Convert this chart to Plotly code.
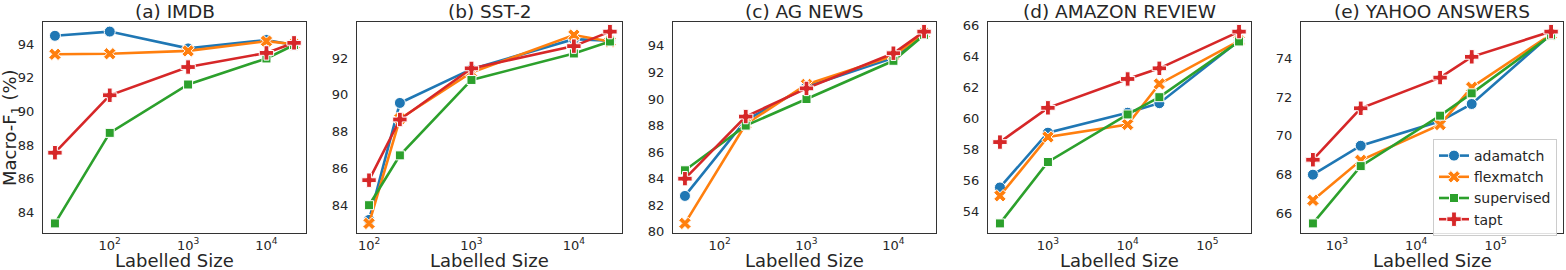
import math
import plotly.graph_objects as go

# ---------------- data ----------------
titles = ["(a) IMDB", "(b) SST-2", "(c) AG NEWS", "(d) AMAZON REVIEW", "(e) YAHOO ANSWERS"]
methods = ["adamatch", "flexmatch", "supervised", "tapt"]

x_imdb = [20, 100, 1000, 10000, 22500]
x_sst2 = [100, 200, 1000, 10000, 22500]
x_agnews = [40, 200, 1000, 10000, 22500]
x_amazon = [250, 1000, 10000, 25000, 250000]
x_yahoo = [500, 2000, 20000, 50000, 500000]

imdb_adamatch = [94.5, 94.75, 93.75, 94.25, 93.95]
imdb_flexmatch = [93.4, 93.43, 93.6, 94.18, 94.0]
imdb_supervised = [83.33, 88.72, 91.6, 93.15, 93.95]
imdb_tapt = [87.54, 90.96, 92.64, 93.48, 94.08]

sst2_adamatch = [83.2, 89.56, 91.4, 93.03, 92.94]
sst2_flexmatch = [83.01, 88.7, 91.22, 93.25, 92.9]
sst2_supervised = [84.0, 86.71, 90.81, 92.25, 92.9]
sst2_tapt = [85.36, 88.66, 91.44, 92.65, 93.44]

agnews_adamatch = [82.7, 88.4, 90.93, 93.1, 94.95]
agnews_flexmatch = [80.63, 88.1, 91.1, 93.25, 94.95]
agnews_supervised = [84.63, 88.0, 90.0, 92.88, 94.83]
agnews_tapt = [84.0, 88.68, 90.8, 93.45, 95.08]

amazon_adamatch = [55.53, 59.08, 60.37, 60.99, 65.03]
amazon_flexmatch = [54.99, 58.8, 59.61, 62.24, 65.03]
amazon_supervised = [53.2, 57.18, 60.26, 61.38, 64.99]
amazon_tapt = [58.47, 60.69, 62.56, 63.25, 65.63]

yahoo_adamatch = [68.0, 69.49, 70.75, 71.64, 75.23]
yahoo_flexmatch = [66.68, 68.74, 70.58, 72.5, 75.23]
yahoo_supervised = [65.49, 68.44, 71.04, 72.19, 75.18]
yahoo_tapt = [68.77, 71.42, 73.0, 74.07, 75.37]

xtick_vals = [100, 1000, 10000, 100000]
xtick_text = ["10<sup>2</sup>", "10<sup>3</sup>", "10<sup>4</sup>", "10<sup>5</sup>"]
ytick_step = 2

panels = [
    (x_imdb, [imdb_adamatch, imdb_flexmatch, imdb_supervised, imdb_tapt]),
    (x_sst2, [sst2_adamatch, sst2_flexmatch, sst2_supervised, sst2_tapt]),
    (x_agnews, [agnews_adamatch, agnews_flexmatch, agnews_supervised, agnews_tapt]),
    (x_amazon, [amazon_adamatch, amazon_flexmatch, amazon_supervised, amazon_tapt]),
    (x_yahoo, [yahoo_adamatch, yahoo_flexmatch, yahoo_supervised, yahoo_tapt]),
]

# ---------------- style ----------------
W, H = 1566, 270
colors = ["#1f77b4", "#ff7f0e", "#2ca02c", "#d62728"]
symbols = ["circle", "x", "square", "cross"]
msizes = [11, 11, 9, 12]
txt = "#262626"
font_family = "DejaVu Sans"

panel_px = [(43, 306), (357, 622), (673, 936), (988, 1251), (1301, 1563)]
top_px, bot_px = 22, 233

fig = go.Figure()
layout = dict(
    template="simple_white",
    width=W, height=H,
    margin=dict(l=0, r=0, t=0, b=0, autoexpand=False),
    paper_bgcolor="white", plot_bgcolor="white",
    font=dict(family=font_family, color=txt, size=13),
    showlegend=True,
    legend=dict(
        x=1557 / W, y=1 - 139 / H, xanchor="right", yanchor="top",
        bgcolor="rgba(255,255,255,0.85)", bordercolor="#cccccc", borderwidth=1,
        font=dict(size=14, color=txt, family=font_family),
        tracegroupgap=0, itemwidth=30,
    ),
    annotations=[],
)

for i, (xs, series) in enumerate(panels):
    xa = "x" if i == 0 else f"x{i+1}"
    ya = "y" if i == 0 else f"y{i+1}"
    for j, (m, ys) in enumerate(zip(methods, series)):
        fig.add_trace(go.Scatter(
            x=xs, y=ys, mode="lines+markers", name=m,
            xaxis=xa, yaxis=ya,
            line=dict(color=colors[j], width=2.6),
            marker=dict(symbol=symbols[j], size=msizes[j], color=colors[j],
                        line=dict(color="white", width=1)),
            showlegend=(i == 4), legendgroup=m,
        ))
    lx = [math.log10(v) for v in xs]
    xpad = (max(lx) - min(lx)) * 0.05
    allys = [v for s in series for v in s]
    ypad = (max(allys) - min(allys)) * 0.05
    x0, x1 = panel_px[i]
    axis_common = dict(showline=True, mirror=True, linecolor="#333333", linewidth=1.2,
                       showgrid=False, zeroline=False, ticks="", automargin=False,
                       tickfont=dict(size=13, color=txt, family=font_family))
    layout["xaxis" if i == 0 else f"xaxis{i+1}"] = dict(
        type="log", domain=[x0 / W, x1 / W], anchor=ya,
        range=[min(lx) - xpad, max(lx) + xpad],
        tickvals=xtick_vals, ticktext=xtick_text, ticklabelstandoff=0, **axis_common)
    layout["yaxis" if i == 0 else f"yaxis{i+1}"] = dict(
        domain=[1 - bot_px / H, 1 - top_px / H], anchor=xa,
        range=[min(allys) - ypad, max(allys) + ypad],
        dtick=ytick_step, tick0=0, ticklabelstandoff=5, **axis_common)
    layout["annotations"].append(dict(
        text=titles[i], x=(x0 + x1) / 2 / W, y=1 - 11.5 / H, xref="paper", yref="paper",
        xanchor="center", yanchor="middle", showarrow=False,
        font=dict(size=18.5, color=txt, family=font_family)))
    layout["annotations"].append(dict(
        text="Labelled Size", x=(x0 + x1) / 2 / W, y=1 - 260 / H, xref="paper", yref="paper",
        xanchor="center", yanchor="middle", showarrow=False, borderpad=0,
        font=dict(size=18, color=txt, family=font_family)))

layout["annotations"].append(dict(
    text="Macro-F<sub>1</sub> (%)", x=11 / W, y=1 - 128 / H, xref="paper", yref="paper",
    xanchor="center", yanchor="middle", showarrow=False, textangle=-90, borderpad=0,
    font=dict(size=18, color=txt, family=font_family)))

fig.update_layout(**layout)
fig.write_html("out.html")
